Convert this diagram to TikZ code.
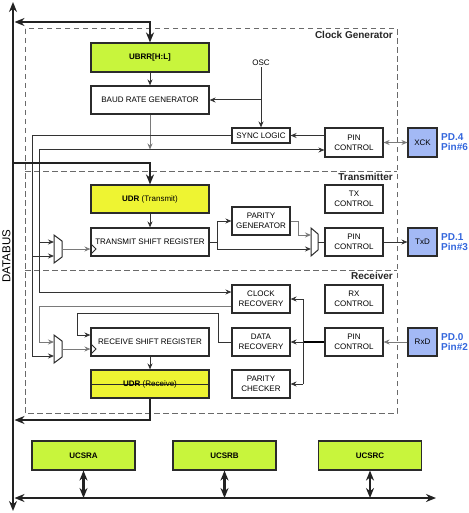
\documentclass[tikz,border=0pt]{standalone}
\usepackage{fontspec}
\setmainfont{Liberation Sans}
\usetikzlibrary{arrows.meta,calc}
\definecolor{regfill}{HTML}{C8F53C}
\definecolor{udrfill}{HTML}{EEF432}
\definecolor{pinfill}{HTML}{A3B9F5}
\definecolor{pdblue}{HTML}{3366DD}
\definecolor{boxc}{HTML}{2B2B2B}
\definecolor{linec}{HTML}{333333}
\definecolor{greyc}{HTML}{7A7A7A}
\definecolor{busc}{HTML}{222222}
\definecolor{dashc}{HTML}{6A6A6A}
\begin{document}
\begin{tikzpicture}[x=1pt,y=-1pt,
  box/.style={draw=boxc, line width=1.1pt, fill=white, inner sep=0pt, align=center,
    font=\fontsize{8}{10}\selectfont, text=black},
  wbox/.style={box, minimum width=118pt, minimum height=28pt},
  sbox/.style={box, minimum width=58pt, minimum height=28pt},
  pbox/.style={box, fill=pinfill, minimum width=29pt, minimum height=28pt},
  regbox/.style={box, fill=regfill, font=\bfseries\fontsize{8}{10}\selectfont},
  udrbox/.style={wbox, fill=udrfill},
  ln/.style={draw=linec, line width=1pt},
  gln/.style={draw=greyc, line width=1pt},
  arr/.style={ln, -{Stealth[length=6pt,width=5pt]}},
  garr/.style={gln, -{Stealth[length=6pt,width=5pt]}},
  darr/.style={gln, {Stealth[length=6pt,width=5pt]}-{Stealth[length=6pt,width=5pt]}},
  bus/.style={draw=busc, line width=2.8pt},
  busa/.style={bus, -{Stealth[length=10pt,width=8pt]}},
  busaa/.style={bus, {Stealth[length=10pt,width=8pt]}-{Stealth[length=10pt,width=8pt]}},
  muxst/.style={draw=boxc, line width=1pt, fill=white},
  seclabel/.style={font=\bfseries\fontsize{10}{11}\selectfont, inner sep=1pt, text=black!85},
  pdlabel/.style={font=\bfseries\fontsize{10}{10}\selectfont, text=pdblue, align=left, inner sep=0pt, anchor=west},
  plain/.style={font=\fontsize{8}{10}\selectfont, inner sep=1pt}
]
\useasboundingbox (0,0) rectangle (468,513);
\fill[white] (0,0) rectangle (468,513);

% dashed frame
\draw[draw=dashc, line width=1pt, dash pattern=on 5.5pt off 3.5pt] (25,29) rectangle (397,413);
\draw[draw=dashc, line width=1pt, dash pattern=on 5.5pt off 3.5pt] (25,171) -- (397,171);
\draw[draw=dashc, line width=1pt, dash pattern=on 5.5pt off 3.5pt] (25,270) -- (397,270);
\node[seclabel, anchor=north east] (lclk) at (394,30) {Clock Generator};
\node[seclabel, anchor=north east] (ltx) at (394,172) {Transmitter};
\node[seclabel, anchor=north east] (lrx) at (394,271) {Receiver};

% clock generator
\node[regbox, minimum width=118pt, minimum height=29pt] (ubrr) at (150,57.5) {UBRR[H:L]};
\node[wbox] (baud) at (150,100) {BAUD RATE GENERATOR};
\node[plain] (osc) at (261,63) {OSC};
\node[box, minimum width=58pt, minimum height=15pt] (syncl) at (261,135.5) {SYNC LOGIC};
\node[sbox, minimum height=29pt] (pinx) at (354,142.5) {PIN\\CONTROL};
\node[pbox, minimum height=29pt] (xck) at (422.5,142.5) {XCK};
\node[pdlabel] (pdx) at (441,142.5) {PD.4\\Pin\#6};

% transmitter
\node[udrbox] (udrt) at (150,199) {\textbf{UDR} (Transmit)};
\node[wbox] (tsr) at (150,242) {TRANSMIT SHIFT REGISTER};
\node[sbox] (parg) at (261,221) {PARITY\\GENERATOR};
\node[sbox] (txc) at (354,199) {TX\\CONTROL};
\node[sbox] (pint) at (354,242) {PIN\\CONTROL};
\node[pbox] (txd) at (422.5,242) {TxD};
\node[pdlabel] (pdt) at (441,242) {PD.1\\Pin\#3};

% receiver
\node[sbox] (clkr) at (261,299) {CLOCK\\RECOVERY};
\node[sbox] (rxc) at (354,299) {RX\\CONTROL};
\node[wbox] (rsr) at (150,342) {RECEIVE SHIFT REGISTER};
\node[sbox] (datar) at (261,342) {DATA\\RECOVERY};
\node[sbox] (pinr) at (354,342) {PIN\\CONTROL};
\node[pbox] (rxd) at (422.5,342) {RxD};
\node[pdlabel] (pdr) at (441,342) {PD.0\\Pin\#2};
\node[udrbox, path picture={\draw[draw=boxc, line width=0.7pt] (path picture bounding box.west) -- (path picture bounding box.east);}] (udrr) at (150,384) {\textbf{UDR} (Receive)};
\node[sbox] (parc) at (261,384) {PARITY\\CHECKER};

% control/status registers
\node[regbox, minimum width=103pt, minimum height=29pt] (ucsra) at (83.5,455.5) {UCSRA};
\node[regbox, minimum width=103pt, minimum height=29pt] (ucsrb) at (224.5,455.5) {UCSRB};
\node[regbox, minimum width=103pt, minimum height=29pt] (ucsrc) at (370,455.5) {UCSRC};

% clock markers on shift registers
\draw[draw=boxc, line width=0.8pt] ($(tsr.west)+(0,1.5)$) -- ($(tsr.west)+(5.5,7)$) -- ($(tsr.west)+(0,12.5)$);
\draw[draw=boxc, line width=0.8pt] ($(rsr.west)+(0,1.5)$) -- ($(rsr.west)+(5.5,7)$) -- ($(rsr.west)+(0,12.5)$);

% multiplexers
\draw[muxst] (54,235) -- (62,241) -- (62,257) -- (54,263) -- cycle;
\draw[muxst] (54,335) -- (62,341) -- (62,357) -- (54,363) -- cycle;
\draw[muxst] (311,228) -- (318,234) -- (318,250) -- (311,256) -- cycle;
\coordinate (txmi1) at (54,242);
\coordinate (txmi2) at (54,256);
\coordinate (txmo) at (62,249);
\coordinate (rxmi1) at (54,342);
\coordinate (rxmi2) at (54,356);
\coordinate (rxmo) at (62,349);
\coordinate (omi1) at (311,235);
\coordinate (omi2) at (311,249);
\coordinate (omo) at (318,242);

% clock generator wiring
\coordinate (osj) at (261,100);
\draw[arr] (osc.south) -- (syncl.north);
\draw[arr] (osj) -- (baud.east);
\draw[arr] (ubrr.south) -- (baud.north);
\draw[garr] (baud.south) -- (150,149.5);
\draw[arr] ($(pinx.west)+(0,-7)$) -- (syncl.east);
\draw[darr] (pinx.east) -- (xck.west);
\draw[arr] (39,292) -- (39,150) -- ($(pinx.west)+(0,7.5)$);
\draw[arr] (syncl.west) -| (32,356) -- (rxmi2);

% transmitter wiring
\draw[arr] (udrt.south) -- (tsr.north);
\draw[arr] (39,242) -- (txmi1);
\draw[arr] (32,256) -- (txmi2);
\draw[garr] (txmo) -- ($(tsr.west)+(0,7)$);
\coordinate (tsj) at (217,242);
\draw[ln] (tsr.east) -- (tsj);
\draw[arr] (tsj) |- (parg.west);
\draw[arr] (tsj) |- (omi2);
\draw[garr] (parg.east) -| (298,235) -- (omi1);
\draw[ln] (omo) -- (pint.west);
\draw[arr] (pint.east) -- (txd.west);

% receiver wiring
\draw[arr] (39,292) -- ($(clkr.west)+(0,-7)$);
\draw[garr] ($(clkr.west)+(0,7)$) -| (39,342) -- (rxmi1);
\draw[arr] (datar.west) -- (218,342) |- (77,313) |- ($(rsr.west)+(0,-7)$);
\draw[garr] (rxmo) -- ($(rsr.west)+(0,7)$);
\draw[arr] (rsr.south) -- (udrr.north);
\draw[garr] (rxd.west) -- (pinr.east);
\coordinate (rj) at (303,342);
\draw[draw=black, line width=1.3pt] (pinr.west) -- (rj);
\draw[ln] (303,299) -- (303,384);
\draw[arr] (303,299) -- (clkr.east);
\draw[arr] (rj) -- (datar.east);
\draw[arr] (303,384) -- (parc.east);

% data bus
\draw[busaa] (13,511) -- (13,2);
\node[rotate=90, font=\fontsize{11.5}{12}\selectfont, inner sep=0pt] (dbl) at (6.5,256) {DATABUS};
\draw[busaa] (14.5,22) -| (ubrr.north);
\draw[busa] (13,163) -| (udrt.north);
\draw[busa] (udrr.south) |- (14.5,420);
\coordinate (bb) at (0,498);
\draw[busaa] (14.5,498) -- (436,498);
\draw[busaa] (ucsra.south) -- (ucsra.south |- bb);
\draw[busaa] (ucsrb.south) -- (ucsrb.south |- bb);
\draw[busaa] (ucsrc.south) -- (ucsrc.south |- bb);
\end{tikzpicture}
\end{document}
